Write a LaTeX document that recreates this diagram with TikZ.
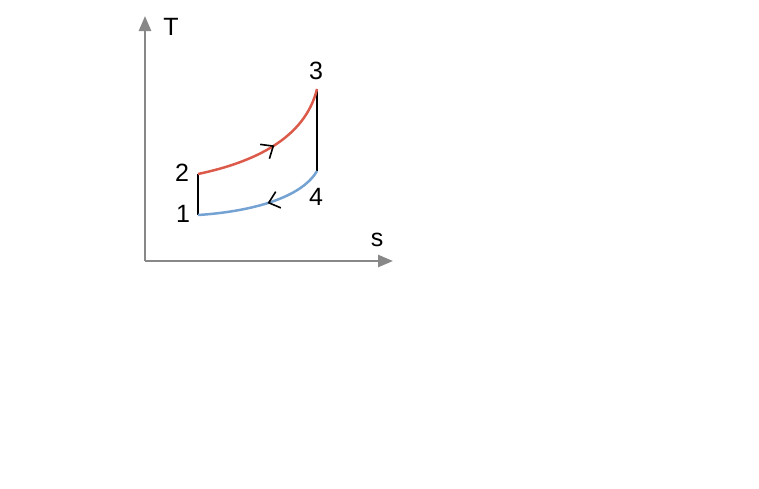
\documentclass[tikz,border=0pt]{standalone}
\usepackage{fontspec}
\setmainfont{Liberation Sans}
\usetikzlibrary{arrows.meta,decorations.markings}
\definecolor{axisgray}{HTML}{888888}
\definecolor{hotred}{HTML}{DC5A4A}
\definecolor{coldblue}{HTML}{74A2D2}
\tikzset{
  axis/.style={draw=axisgray,line width=2.5pt,-{Triangle[length=15pt,width=12pt]}},
  lbl/.style={font=\fontsize{25}{25}\selectfont,inner sep=0pt},
  proc/.style={line width=2.5pt},
  midarrow/.style={postaction={decorate},decoration={markings,
    mark=at position #1 with {\arrow[black,line width=1.6pt]{Straight Barb[length=10pt,width=17pt]}}}}
}
\begin{document}
\begin{tikzpicture}[x=1pt,y=-1pt]
\useasboundingbox (0,0) rectangle (759,488);
\coordinate (O) at (145,261);
\coordinate (Ttip) at (145,16);
\coordinate (Stip) at (393,261);
\coordinate (p1) at (198,215);
\coordinate (p2) at (198,174);
\coordinate (p3) at (317,89);
\coordinate (p4) at (317,171);
\draw[axis] (O) -- (Ttip);
\draw[axis] (O) -- (Stip);
\draw[proc,black] (p1) -- (p2);
\draw[proc,black] (p3) -- (p4);
\draw[proc,hotred,midarrow=0.53] (p2) .. controls (255,162) and (305,138) .. (p3);
\draw[proc,coldblue,midarrow=0.46] (p4) .. controls (300,200) and (245,212) .. (p1);
\node[lbl] (lT) at (171,27) {T};
\node[lbl] (l3) at (316,71) {3};
\node[lbl] (l2) at (182,173) {2};
\node[lbl] (l1) at (183,214) {1};
\node[lbl] (l4) at (316,197) {4};
\node[lbl] (ls) at (377,240) {s};
\end{tikzpicture}
\end{document}
